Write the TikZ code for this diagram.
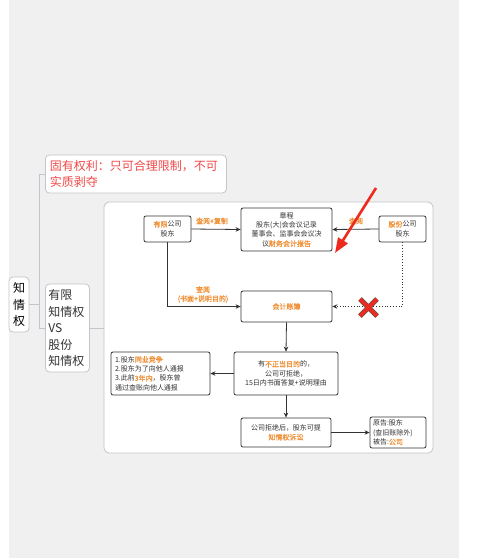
\documentclass[tikz,border=0pt]{standalone}
\usepackage{fontspec}
\setmainfont{Noto Sans CJK SC}[AutoFakeBold=1.3]
\usetikzlibrary{arrows.meta}
\definecolor{org}{HTML}{F0923A}
\definecolor{bg}{HTML}{F0F0F0}
\definecolor{txt}{HTML}{333333}
\definecolor{mmline}{HTML}{C4C4CE}
\definecolor{redtxt}{HTML}{F04848}
\definecolor{redarr}{HTML}{EE2A1E}
\newcommand{\og}[1]{{\color{org}\bfseries #1}}
\tikzset{
  flowbox/.style={draw=txt, fill=white, line width=0.8pt, rounded corners=2pt,
    text=txt, align=center, inner sep=2pt, font=\fontsize{7}{9.4}\selectfont},
  mmbox/.style={draw=mmline, fill=white, line width=0.8pt, rounded corners=4pt,
    inner sep=3pt, font=\fontsize{12}{16.5}\selectfont},
  conn/.style={draw=txt, line width=0.8pt, -{Stealth[length=5pt,width=4.5pt]}},
  lab/.style={text=org, font=\fontsize{7}{9}\selectfont\bfseries, align=center, inner sep=0pt},
  mmconn/.style={draw=mmline, line width=0.9pt}
}
\begin{document}
\begin{tikzpicture}[x=1pt,y=-1pt]
\useasboundingbox (0,0) rectangle (484,558);
\fill[white] (0,0) rectangle (484,558);
\fill[bg] (9,0) rectangle (459,558);

% mind map
\node[mmbox, minimum width=20pt, minimum height=55pt, text width=12pt, align=center, inner sep=2pt] (root) at (19,304.5) {知\\情\\权};
\node[mmbox, minimum width=181pt, minimum height=38pt, text width=172pt, align=left, text=redtxt, anchor=west] (b1) at (45,174) {固有权利：只可合理限制，不可\\实质剥夺};
\node[mmbox, minimum width=44pt, minimum height=88pt, text width=38pt, align=left, text=txt, anchor=west] (b2) at (45,328) {有限\\知情权\\VS\\股份\\知情权};
\node[draw=mmline, fill=white, line width=0.8pt, rounded corners=5pt, minimum width=329pt, minimum height=251pt, inner sep=0pt] (cont) at (268.5,327.5) {};
\coordinate (j) at (39,304.5);
\coordinate (jt) at (39,174);
\coordinate (jb) at (39,328);
\draw[mmconn] (root.east) -- (j);
\draw[mmconn] (b1.west) -- (jt) -- (jb) -- (b2.west);
\draw[mmconn] (b2.east) -- (b2.east -| cont.west);

% flow boxes
\node[flowbox, minimum width=47pt, minimum height=26pt] (yx) at (167.5,229) {\og{有限}公司\\股东};
\node[flowbox, minimum width=91pt, minimum height=43pt] (zc) at (286.5,229.5) {章程\\股东(大)会会议记录\\董事会、监事会会议决\\议\og{财务会计报告}};
\node[flowbox, minimum width=47pt, minimum height=26pt] (gf) at (402.5,229) {\og{股份}公司\\股东};
\node[flowbox, minimum width=91pt, minimum height=31pt] (kj) at (286.5,306.5) {\og{会计账簿}};
\node[flowbox, minimum width=104pt, minimum height=43pt] (mid) at (286,373.5) {有\og{不正当目的}的，\\公司可拒绝，\\15日内书面答复+说明理由};
\node[flowbox, minimum width=99pt, minimum height=43pt, text width=91pt, align=left] (lf) at (160.5,373.5) {1.股东\og{同业竞争}\\2.股东为了向他人通报\\3.此前\og{3年内}，股东曾\\通过查账向他人通报};
\node[flowbox, minimum width=90pt, minimum height=29pt] (low) at (286,432.5) {公司拒绝后，股东可提\\\og{知情权诉讼}};
\node[flowbox, minimum width=56pt, minimum height=31pt, text width=50pt, align=left] (rt) at (398,432.5) {原告:股东\\(查旧账除外)\\被告:\og{公司}};

% connectors
\draw[conn] (yx.east) -- (zc.west);
\draw[conn] (gf.west) -- (zc.east);
\draw[conn] (yx.south) |- (kj.west);
\draw[conn, dotted] (gf.south) |- (kj.east);
\draw[conn] (kj.south) -- (mid.north);
\draw[conn] (mid.west) -- (lf.east);
\draw[conn] (mid.south) -- (low.north);
\draw[conn] (low.east) -- (rt.west);

% labels
\node[lab] (l1) at (212,221) {查阅+复制};
\node[lab] (l2) at (356,221) {查阅};
\node[lab] (l3) at (203,294.5) {查阅\\(书面+说明目的)};

% red X
\coordinate (xa) at (360,299);
\coordinate (xb) at (377,316);
\coordinate (xc) at (377,299);
\coordinate (xd) at (360,316);
\draw[line width=5pt, draw=txt!80] (xa) -- (xb) (xc) -- (xd);
\draw[line width=3.6pt, draw=redarr] (xa) -- (xb) (xc) -- (xd);

% red arrow
\coordinate (ra) at (376,188);
\coordinate (rb) at (335,253);
\draw[line width=2.6pt, draw=redarr, -{Triangle[length=15pt,width=11pt]}] (ra) -- (rb);
\end{tikzpicture}
\end{document}
